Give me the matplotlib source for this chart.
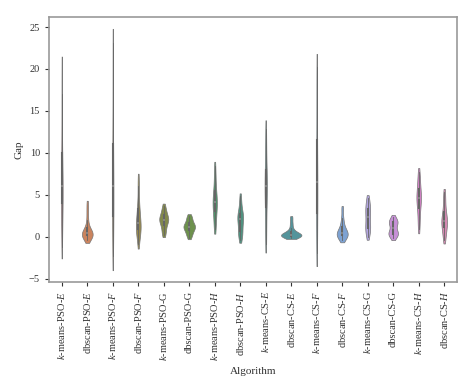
"""Violin plot of the gap per clustering/optimizer algorithm."""

import matplotlib
matplotlib.use("Agg")
import matplotlib.pyplot as plt
import pandas as pd
import seaborn as sns

labels = [
    "$k$-means-PSO-$E$", "dbscan-PSO-$E$", "$k$-means-PSO-$F$", "dbscan-PSO-$F$",
    "$k$-means-PSO-G", "dbscan-PSO-G", "$k$-means-PSO-$H$", "dbscan-PSO-$H$",
    "$k$-means-CS-$E$", "dbscan-CS-$E$", "$k$-means-CS-$F$", "dbscan-CS-$F$",
    "$k$-means-CS-G", "dbscan-CS-G", "$k$-means-CS-$H$", "dbscan-CS-$H$",
]

# sample gaps, one list per algorithm
kmeans_pso_e = [-1.2, 0.5, 2, 3.5, 4.5, 5, 5.5, 6, 6.5, 7.5, 9, 11, 14, 17, 20.1]
dbscan_pso_e = [-0.45, -0.2, 0, 0.1, 0.2, 0.3, 0.3, 0.4, 0.5, 0.6, 0.8, 1.2, 2, 3, 4.0]
kmeans_pso_f = [-2.3, -1, 1, 2, 3, 4, 5, 6, 7, 8, 10, 12, 15, 19, 23.1]
dbscan_pso_f = [-0.9, 0, 0.5, 0.8, 1, 1.1, 1.3, 1.6, 2, 2.6, 3, 3.5, 4.5, 6, 7.0]
kmeans_pso_g = [0.2, 0.6, 1.1, 1.5, 1.8, 2, 2.1, 2.2, 2.5, 2.8, 3.2, 3.7]
dbscan_pso_g = [-0.1, 0.3, 0.6, 0.9, 1.1, 1.2, 1.3, 1.5, 1.8, 2.2, 2.5]
kmeans_pso_h = [0.9, 1.5, 2.5, 3.2, 3.7, 4, 4.2, 4.6, 5.2, 6, 7.2, 8.4]
dbscan_pso_h = [-0.35, 0.2, 0.5, 0.8, 1.5, 2, 2.2, 2.4, 2.6, 3, 3.8, 4.8]
kmeans_cs_e = [-0.9, 0, 2, 3.5, 4.5, 5.5, 6, 6.5, 7, 8, 9.5, 11.5, 12.9]
dbscan_cs_e = [-0.1, 0, 0.05, 0.1, 0.15, 0.2, 0.2, 0.25, 0.3, 0.4, 0.6, 1, 1.6, 2.3]
kmeans_cs_f = [-1.9, -1, 1, 2.5, 4, 5, 6, 7, 8, 10, 12, 15, 18, 20.2]
dbscan_cs_f = [-0.4, -0.1, 0.1, 0.2, 0.3, 0.4, 0.5, 0.7, 1, 1.5, 2.2, 3.4]
kmeans_cs_g = [0.0, 0.5, 0.9, 1.1, 1.5, 2, 2.6, 3, 3.2, 3.6, 4.2, 4.6]
dbscan_cs_g = [-0.2, 0.15, 0.3, 0.4, 0.5, 0.8, 1.2, 1.6, 1.7, 1.8, 2.05, 2.4]
kmeans_cs_h = [0.9, 1.8, 2.8, 3.6, 4.2, 4.5, 4.7, 5, 5.5, 6.2, 7, 7.7]
dbscan_cs_h = [-0.4, 0.2, 0.8, 1.3, 1.6, 1.8, 2, 2.3, 2.8, 3.5, 4.5, 5.3]

groups = [
    kmeans_pso_e, dbscan_pso_e, kmeans_pso_f, dbscan_pso_f,
    kmeans_pso_g, dbscan_pso_g, kmeans_pso_h, dbscan_pso_h,
    kmeans_cs_e, dbscan_cs_e, kmeans_cs_f, dbscan_cs_f,
    kmeans_cs_g, dbscan_cs_g, kmeans_cs_h, dbscan_cs_h,
]


def main() -> None:
    plt.rcParams["font.family"] = ["Liberation Serif", "DejaVu Serif"]
    plt.rcParams["mathtext.fontset"] = "custom"
    plt.rcParams["mathtext.rm"] = "Liberation Serif"
    plt.rcParams["mathtext.it"] = "Liberation Serif:italic"

    rows = [(lab, v) for lab, vals in zip(labels, groups) for v in vals]
    df = pd.DataFrame(rows, columns=["Algorithm", "Gap"])

    fig = plt.figure(figsize=(4.74, 3.9), dpi=100)
    ax = fig.add_axes([0.1034, 0.2769, 0.8606, 0.6795])

    sns.violinplot(
        data=df, x="Algorithm", y="Gap", hue="Algorithm", order=labels,
        hue_order=labels, palette="husl", legend=False, cut=0.5,
        density_norm="area", common_norm=True, bw_adjust=0.8,
        saturation=0.55, linewidth=0.5, linecolor="#777777",
        inner_kws={"box_width": 1.5, "whis_width": 0.6, "color": "#666666"},
        ax=ax,
    )

    ax.set_xlim(-0.5, 15.5)
    ax.set_ylim(-5.4, 26.2)
    ax.set_yticks([-5, 0, 5, 10, 15, 20, 25])
    ax.tick_params(axis="x", labelrotation=90)
    ax.tick_params(labelsize=7.5, colors="#333333", length=3, width=0.8)
    for s in ax.spines.values():
        s.set_color("#999999")
        s.set_linewidth(1.2)
    ax.set_xlabel("Algorithm", fontsize=8, color="#333333")
    ax.set_ylabel("Gap", fontsize=8, color="#333333")

    fig.savefig("out.png", dpi=100)
    plt.close(fig)


if __name__ == "__main__":
    main()
